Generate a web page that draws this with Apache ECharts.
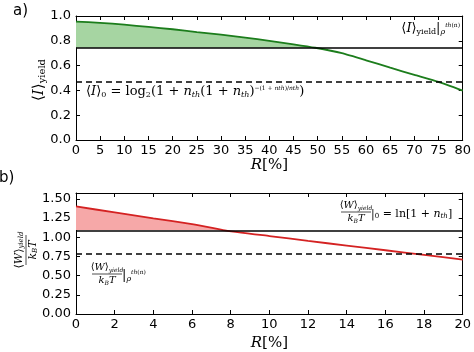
<!DOCTYPE html>
<html>
<head>
<meta charset="utf-8">
<script src="https://cdn.jsdelivr.net/npm/echarts@6/dist/echarts.min.js"></script>
<style>
	html, body { margin: 0; padding: 0; background: #fff; }
	#chart { width: 474px; height: 352px; }
</style>
</head>
<body>
<div id="chart"></div>
<script>
	'use strict'

	// panel a) : <I>_yield versus R[%]
	var rTop = [0, 5, 10, 15, 20, 25, 30, 35, 40, 45, 49.5, 55, 60, 65, 70, 75, 80];
	var iTop = [0.955, 0.945, 0.93, 0.912, 0.893, 0.87, 0.85, 0.826, 0.80, 0.772, 0.744, 0.70, 0.643, 0.583, 0.525, 0.468, 0.398];
	var iThermal = 0.744;   // solid line
	var iZero = 0.47;       // dashed line
	var crossTop = 49.5;

	// panel b) : <W>_yield / kBT versus R[%]
	var rBot = [0, 2, 4, 6, 7.6, 10, 12, 14, 16, 18, 20];
	var wBot = [1.40, 1.322, 1.245, 1.17, 1.093, 1.015, 0.952, 0.89, 0.83, 0.77, 0.707];
	var wZero = 1.093;      // solid line
	var wThermal = 0.793;   // dashed line
	var crossBot = 7.6;

	function pairs(xs, ys, upTo) {
		var out = [];
		for (var i = 0; i < xs.length; i++) {
			if (upTo === undefined || xs[i] <= upTo) out.push([xs[i], ys[i]]);
		}
		return out;
	}

	var sans = 'DejaVu Sans';
	var serif = 'DejaVu Serif';
	var edge = { show: true, onZero: false, lineStyle: { color: '#000', width: 1 } };
	var ticks = { show: true, inside: true, length: 4, lineStyle: { color: '#000' } };

	function xAx(grid, max, interval) {
		return {
			type: 'value', gridIndex: grid, min: 0, max: max, interval: interval,
			axisLine: edge, axisTick: ticks,
			axisLabel: { fontFamily: sans, fontSize: 13, color: '#000', margin: 4 },
			splitLine: { show: false },
			name: '{i|R}[%]',
			nameLocation: 'middle',
			nameGap: grid === 0 ? 17 : 22,
			nameTextStyle: {
				fontFamily: serif, fontSize: 15, color: '#000',
				rich: { i: { fontFamily: serif, fontStyle: 'italic', fontSize: 15, color: '#000' } }
			}
		};
	}
	function xTop(grid, max, interval) {
		return {
			type: 'value', gridIndex: grid, position: 'top', min: 0, max: max, interval: interval,
			axisLine: edge, axisTick: ticks,
			axisLabel: { show: false }, splitLine: { show: false }
		};
	}
	function yAx(grid, max, interval, fmt, showMax) {
		return {
			type: 'value', gridIndex: grid, min: 0, max: max, interval: interval,
			axisLine: edge, axisTick: ticks,
			axisLabel: { fontFamily: sans, fontSize: 13, color: '#000', margin: 5, showMaxLabel: showMax,
				formatter: function (v) { return v.toFixed(fmt); } },
			splitLine: { show: false }
		};
	}
	function yRight(grid, max, interval) {
		return {
			type: 'value', gridIndex: grid, position: 'right', min: 0, max: max, interval: interval,
			axisLine: edge, axisTick: ticks,
			axisLabel: { show: false }, splitLine: { show: false }
		};
	}

	function mathRich(big, small, tiny) {
		return {
			m: { fontFamily: serif, fontSize: big, color: '#222' },
			mi: { fontFamily: serif, fontStyle: 'italic', fontSize: big, color: '#222' },
			s: { fontFamily: serif, fontSize: small, color: '#222', padding: [Math.round(big * 0.45), 0, 0, 0] },
			si: { fontFamily: serif, fontStyle: 'italic', fontSize: small, color: '#222', padding: [Math.round(big * 0.45), 0, 0, 0] },
			u: { fontFamily: serif, fontSize: tiny, color: '#222', padding: [0, 0, Math.round(big * 0.55), 0] },
			ui: { fontFamily: serif, fontStyle: 'italic', fontSize: tiny, color: '#222', padding: [0, 0, Math.round(big * 0.55), 0] }
		};
	}
	var richA = mathRich(13, 8, 6);
	var richF = mathRich(10, 6, 5);
	var richL = mathRich(13, 8, 6);
	var richR = mathRich(11, 7, 5);

	function frac(x, y, num, den, half, rich, rot) {
		return {
			type: 'group', x: x, y: y, rotation: rot || 0,
			children: [
				{ type: 'text', x: 0, y: -1, style: { text: num, rich: rich, align: 'center', verticalAlign: 'bottom' } },
				{ type: 'line', shape: { x1: -half, y1: 0, x2: half, y2: 0 }, style: { stroke: '#222', lineWidth: 0.8 } },
				{ type: 'text', x: 0, y: 1, style: { text: den, rich: rich, align: 'center', verticalAlign: 'top' } }
			]
		};
	}

	var wNum = '{m|⟨}{mi|W}{m|⟩}{si|yield}';
	var wDen = '{mi|k}{si|B}{mi|T}';

	var option = {
		animation: false,
		grid: [
			{ left: 76, top: 16, width: 389, height: 124 },
			{ left: 76, top: 193, width: 389, height: 122 }
		],
		xAxis: [
			xAx(0, 80, 5), xTop(0, 80, 5),
			xAx(1, 20, 2), xTop(1, 20, 2)
		],
		yAxis: [
			yAx(0, 1.0, 0.2, 1, true), yRight(0, 1.0, 0.2),
			yAx(1, 1.575, 0.25, 2, false), yRight(1, 1.575, 0.25)
		],
		series: [
			{
				name: 'fillA', type: 'line', xAxisIndex: 0, yAxisIndex: 0,
				data: pairs(rTop, iTop, crossTop), smooth: 0.15, symbol: 'none',
				lineStyle: { width: 0 },
				areaStyle: { origin: iThermal, color: '#a6d5a2', opacity: 1 },
				z: 1
			},
			{
				name: 'levelsA', type: 'line', xAxisIndex: 0, yAxisIndex: 0, data: [], z: 3,
				markLine: {
					silent: true, symbol: 'none', label: { show: false },
					data: [
						{ yAxis: iThermal, lineStyle: { color: '#000', width: 1.5, type: 'solid' } },
						{ yAxis: iZero, lineStyle: { color: '#000', width: 1.5, type: [6, 4] } }
					]
				}
			},
			{
				name: 'I_yield', type: 'line', xAxisIndex: 0, yAxisIndex: 0,
				data: pairs(rTop, iTop), smooth: 0.15, symbol: 'none',
				lineStyle: { color: '#1c7d1c', width: 1.8 }, z: 4
			},
			{
				name: 'fillB', type: 'line', xAxisIndex: 2, yAxisIndex: 2,
				data: pairs(rBot, wBot, crossBot), smooth: 0.15, symbol: 'none',
				lineStyle: { width: 0 },
				areaStyle: { origin: wZero, color: '#f6a8a8', opacity: 1 },
				z: 1
			},
			{
				name: 'levelsB', type: 'line', xAxisIndex: 2, yAxisIndex: 2, data: [], z: 3,
				markLine: {
					silent: true, symbol: 'none', label: { show: false },
					data: [
						{ yAxis: wZero, lineStyle: { color: '#000', width: 1.5, type: 'solid' } },
						{ yAxis: wThermal, lineStyle: { color: '#000', width: 1.5, type: [6, 4] } }
					]
				}
			},
			{
				name: 'W_yield', type: 'line', xAxisIndex: 2, yAxisIndex: 2,
				data: pairs(rBot, wBot), smooth: 0.15, symbol: 'none',
				lineStyle: { color: '#d42222', width: 1.8 }, z: 4
			}
		],
		graphic: [
			{ type: 'text', x: 13, y: 4, style: { text: 'a)', font: '15px DejaVu Sans', fill: '#000' } },
			{ type: 'text', x: -1, y: 171, style: { text: 'b)', font: '15px DejaVu Sans', fill: '#000' } },
			// y axis names
			{
				type: 'text', x: 39, y: 80, rotation: Math.PI / 2,
				style: { text: '{m|⟨}{mi|I}{m|⟩}{s|yield}', rich: mathRich(15, 10, 7), align: 'center', verticalAlign: 'middle' }
			},
			frac(26, 250, wNum, wDen, 15, mathRich(11, 7, 5), Math.PI / 2),
			// panel a) annotations
			{
				type: 'text', x: 460, y: 36,
				style: { text: '{m|⟨}{mi|I}{m|⟩}{s|yield}{m||}{si|ρ}{ui|th}{u|(n)}', rich: richA, align: 'right', verticalAlign: 'bottom' }
			},
			{
				type: 'text', x: 86, y: 92,
				style: {
					text: '{m|⟨}{mi|I}{m|⟩}{s|0}{m| = log}{s|2}{m|(1 + }{mi|n}{si|th}{m|(1 + }{mi|n}{si|th}{m|)}{u|−(1 + }{ui|n}{ui|th}{u|)/}{ui|n}{ui|th}{m|)}',
					rich: richL, align: 'left', verticalAlign: 'middle'
				}
			},
			// panel b) annotations
			frac(356, 212, wNum, wDen, 15, richF),
			{
				type: 'text', x: 371, y: 214,
				style: { text: '{m||}{s|0}{m| = ln[1 + }{mi|n}{si|th}{m|]}', rich: richR, align: 'left', verticalAlign: 'middle' }
			},
			frac(107, 274, wNum, wDen, 15, richF),
			{
				type: 'text', x: 122, y: 276,
				style: { text: '{m||}{si|ρ}{ui|th}{u|(n)}', rich: richA, align: 'left', verticalAlign: 'middle' }
			}
		]
	};

	var chart = echarts.init(document.getElementById('chart'));
	chart.setOption(option);
</script>
</body>
</html>
